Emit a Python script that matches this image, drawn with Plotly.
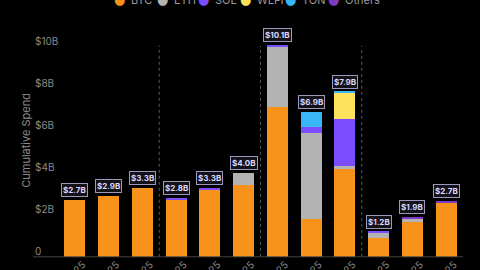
import plotly.graph_objects as go

months = ["Jan 2025", "Feb 2025", "Mar 2025", "Apr 2025", "May 2025", "Jun 2025",
          "Jul 2025", "Aug 2025", "Sep 2025", "Oct 2025", "Nov 2025", "Dec 2025"]
btc = [2.70, 2.90, 3.30, 2.72, 3.17, 3.43, 7.15, 1.80, 4.18, 0.90, 1.67, 2.55]
eth = [0, 0, 0, 0, 0, 0.57, 2.85, 4.10, 0.16, 0.25, 0.12, 0]
sol = [0, 0, 0, 0.08, 0.13, 0, 0.10, 0.27, 2.20, 0.05, 0, 0]
wlfi = [0, 0, 0, 0, 0, 0, 0, 0, 1.30, 0, 0, 0]
ton = [0, 0, 0, 0, 0, 0, 0, 0.72, 0.03, 0, 0, 0]
others = [0, 0, 0, 0, 0, 0, 0, 0, 0, 0, 0.10, 0.12]

series = [("BTC", btc, "#F7931A"), ("ETH", eth, "#B3B3B3"), ("SOL", sol, "#7B4DFF"),
          ("WLFI", wlfi, "#FFE25C"), ("TON", ton, "#38B6F5"), ("Others", others, "#7E3AC0")]

ytick_vals = [0, 2, 4, 6, 8, 10]
ytick_text = ["0", "$2B", "$4B", "$6B", "$8B", "$10B"]
separators = [2.5, 5.5, 8.5]

W, H = 480, 270
PXB = 21.0
YMIN, YMAX = -0.2, 10.8
ZERO_PX = 257
ml, mr = 33, 17
mb = H - (ZERO_PX - YMIN * PXB)
ph = (YMAX - YMIN) * PXB
mt = H - mb - ph
pw = W - ml - mr

def py(px):
    """pixel row -> paper y"""
    return (H - mb - px) / ph

fig = go.Figure()
idx = list(range(len(months)))
for name, vals, col in series:
    fig.add_trace(go.Bar(x=idx, y=vals, name=name, marker=dict(color=col, line=dict(width=0)),
                         showlegend=False, cliponaxis=False))

totals = [sum(v[i] for _, v, _ in series) for i in idx]
for i, t in zip(idx, totals):
    fig.add_annotation(x=i, y=t, xref="x", yref="y", text="<b>$%.1fB</b>" % t,
                       showarrow=False, yanchor="bottom", yshift=3,
                       font=dict(family="Inter, sans-serif", size=8, color="#DCD8FF"),
                       bgcolor="#121218", bordercolor="#9C98BC", borderwidth=1, borderpad=1)

for s in separators:
    fig.add_shape(type="line", x0=s, x1=s, xref="x", y0=0, y1=10.05, yref="y",
                  line=dict(color="#5A5A5A", width=1, dash="dot"))

# x axis baseline at zero
fig.add_shape(type="line", x0=0, x1=1, xref="paper", y0=0, y1=0, yref="y",
              line=dict(color="#444444", width=1))

# legend drawn at the top edge
leg_circle_x = [119, 162, 203, 245, 290, 333]
for (name, _, col), cx in zip(series, leg_circle_x):
    yp = py(0)
    fig.add_annotation(x=(cx - ml) / pw, y=yp, xref="paper", yref="paper", text="●",
                       showarrow=False, xanchor="center", yanchor="middle",
                       font=dict(family="DejaVu Sans", size=13, color=col))
    fig.add_annotation(x=(cx + 10 - ml) / pw, y=yp, xref="paper", yref="paper", text=name,
                       showarrow=False, xanchor="left", yanchor="middle",
                       font=dict(family="Inter, sans-serif", size=11, color="#9A9A9A"))

fig.add_annotation(x=(26 - ml) / pw, y=py(141), xref="paper", yref="paper",
                   text="Cumulative Spend", textangle=-90, showarrow=False,
                   xanchor="center", yanchor="middle",
                   font=dict(family="Inter, sans-serif", size=11, color="#8A8A8A"))

fig.update_layout(
    template="none", width=W, height=H,
    margin=dict(l=ml, r=mr, t=mt, b=mb, pad=0),
    paper_bgcolor="#000000", plot_bgcolor="#000000",
    barmode="stack", bargap=0.38, showlegend=False,
    xaxis=dict(range=[-1.24, 11.5], tickmode="array", tickvals=idx, ticktext=months,
               tickangle=-45, showgrid=False, zeroline=False, showline=False,
               ticks="", automargin=False,
               ticklabelstandoff=-5, ticklabelshift=8,
               tickfont=dict(family="Inter, sans-serif", size=10, color="#8A8A8A")),
    yaxis=dict(range=[YMIN, YMAX], tickmode="array", tickvals=ytick_vals, ticktext=ytick_text,
               ticklabelposition="inside", ticklabelshift=-5, ticklabelstandoff=-1,
               showgrid=False, zeroline=False, showline=False, ticks="", automargin=False,
               tickfont=dict(family="Inter, sans-serif", size=10, color="#8A8A8A")),
    font=dict(family="Inter, sans-serif"),
)

fig.write_html("out.html")
